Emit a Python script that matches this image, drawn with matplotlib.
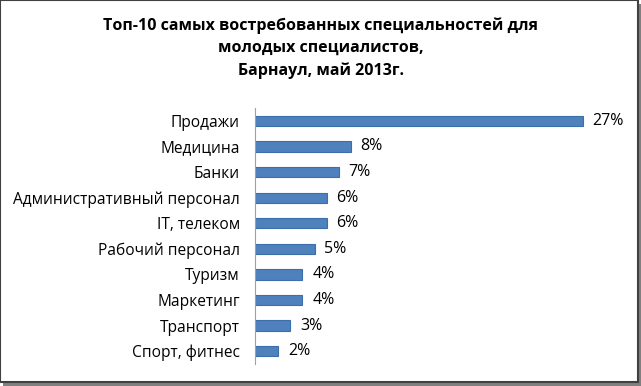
import matplotlib
matplotlib.use("Agg")
import matplotlib.pyplot as plt
from matplotlib.patches import Rectangle

categories = ["Продажи", "Медицина", "Банки", "Административный персонал", "IT, телеком",
              "Рабочий персонал", "Туризм", "Маркетинг", "Транспорт", "Спорт, фитнес"]
values = [27.0, 7.9, 6.9, 5.9, 5.9, 4.9, 3.9, 3.9, 2.9, 1.9]
labels = ["27%", "8%", "7%", "6%", "6%", "5%", "4%", "4%", "3%", "2%"]
title = "Топ-10 самых востребованных специальностей для\nмолодых специалистов,\nБарнаул, май 2013г."

plt.rcParams['font.family'] = ['Open Sans', 'DejaVu Sans']

fig = plt.figure(figsize=(6.41, 3.86), dpi=100)
ax = fig.add_axes([0.398, 0.057, 0.568, 0.663])

y = list(range(len(categories)))
ax.barh(y, values, height=0.4, color="#4F81BD", edgecolor="#3C6EAB", linewidth=0.8)
for yi, v, lab in zip(y, values, labels):
    ax.text(v + 0.8, yi, lab, va="center", ha="left", fontsize=11.5)

ax.set_ylim(len(categories) - 0.5, -0.5)
ax.set_xlim(0, 30)
ax.set_yticks(y)
ax.set_yticklabels(categories, fontsize=11.2)
ax.tick_params(axis="y", length=0, pad=11)
ax.set_xticks([])
for s in ["top", "right", "bottom"]:
    ax.spines[s].set_visible(False)
ax.spines["left"].set_color("#A0A0A0")

fig.text(0.5, 0.955, title, ha="center", va="top", fontsize=11.5, fontweight="bold",
         linespacing=1.5)

# frame with shadow
fig.patches.append(Rectangle((0.005, 0.0), 0.995, 0.99, transform=fig.transFigure,
                             facecolor="#808080", edgecolor="none", zorder=-2))
fig.patches.append(Rectangle((0.0, 0.01), 0.995, 0.99, transform=fig.transFigure,
                             facecolor="white", edgecolor="#404040", linewidth=1.5, zorder=-1))

fig.savefig("out.png", dpi=100)
